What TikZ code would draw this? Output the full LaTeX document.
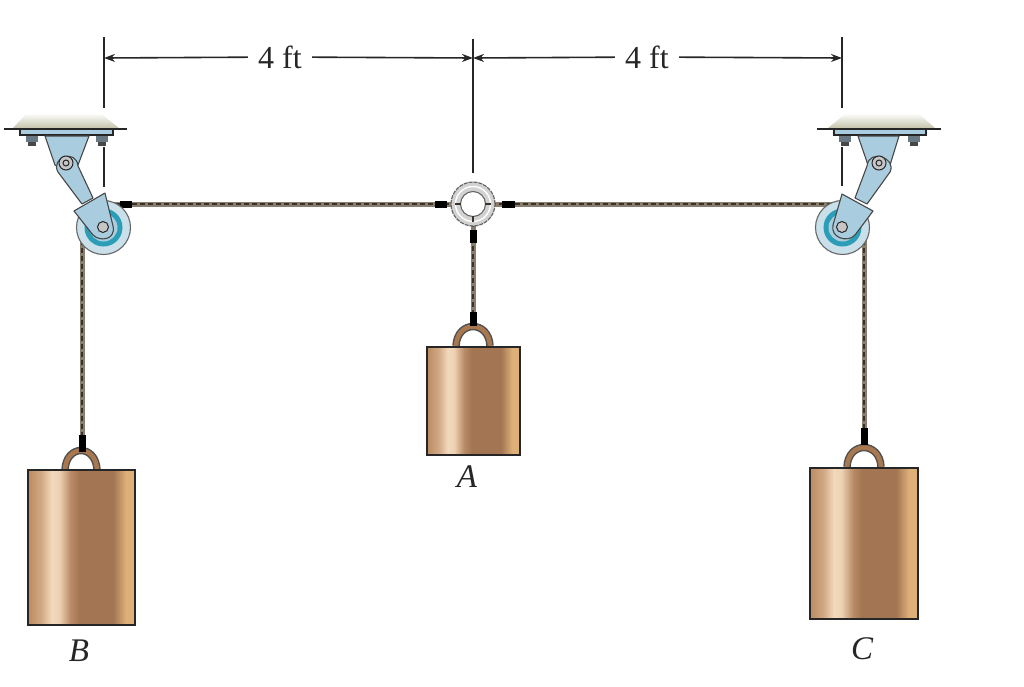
\documentclass[tikz,border=0pt]{standalone}
\usepackage{fontspec}
\setmainfont{Liberation Serif}
\usetikzlibrary{arrows.meta}
\definecolor{ink}{HTML}{262626}
\definecolor{ropebase}{HTML}{887E6D}
\definecolor{ropedark}{HTML}{3A322B}
\definecolor{steel}{HTML}{A9CDDF}
\definecolor{steellight}{HTML}{C9E0EA}
\definecolor{teal}{HTML}{2C9DB6}
\definecolor{hookbrown}{HTML}{A9784F}
\definecolor{ceil}{HTML}{C6C4AC}
\pgfdeclarehorizontalshading{weightshade}{100bp}{
 rgb(0bp)=(0.74,0.55,0.39);
 rgb(25bp)=(0.74,0.55,0.39);
 rgb(31bp)=(0.82,0.66,0.52);
 rgb(36bp)=(0.95,0.85,0.74);
 rgb(39.5bp)=(0.93,0.82,0.70);
 rgb(45bp)=(0.72,0.54,0.40);
 rgb(49bp)=(0.64,0.46,0.32);
 rgb(65bp)=(0.64,0.46,0.32);
 rgb(71bp)=(0.87,0.69,0.47);
 rgb(75bp)=(0.87,0.69,0.47);
 rgb(100bp)=(0.87,0.69,0.47)}
\tikzset{
 dimline/.style={draw=ink,line width=1.6pt,-{Stealth[length=11pt,width=8pt]}},
 extline/.style={draw=ink,line width=1.8pt},
 dimtext/.style={font=\fontsize{32}{32}\selectfont,text=ink,inner sep=0pt,minimum width=64pt},
 lettertext/.style={font=\fontsize{33}{33}\selectfont\itshape,text=ink,inner sep=0pt},
 ropeA/.style={draw=ropebase,line width=5pt},
 ropeB/.style={draw=ropedark,line width=2.8pt,dash pattern=on 5pt off 3pt},
 ferrule/.style={draw=black,line width=7pt},
 weightbox/.style={shading=weightshade,shading angle=0,inner sep=0pt},
 weightedge/.style={draw=ink,line width=2pt},
 hookout/.style={draw=ink!80,line width=7.5pt},
 hookin/.style={draw=hookbrown,line width=4.5pt},
 part/.style={draw=ink!85,line width=1.1pt,fill=steel,line join=round},
 plateline/.style={draw=ink,line width=1.8pt},
 pinst/.style={draw=ink,line width=1pt,fill=gray!45},
}
\newcommand{\rope}[2]{\draw[ropeA] (#1) -- (#2);\draw[ropeB] (#1) -- (#2);}
\newcommand{\hook}[3]{%
 \draw[hookout] (#1,#2) .. controls (#1+1,#2-26) and (#3-1,#2-26) .. (#3,#2);
 \draw[hookin] (#1,#2) .. controls (#1+1,#2-26) and (#3-1,#2-26) .. (#3,#2);}
\begin{document}
\begin{tikzpicture}[x=1pt,y=-1pt]
\useasboundingbox (0,0) rectangle (1024,686);
% ---------- dimensions
\node[dimtext] (ftL) at (280,57) {4 ft};
\node[dimtext] (ftR) at (647,57) {4 ft};
\coordinate (dL) at (104,58); \coordinate (dC) at (473,58); \coordinate (dR) at (842,58);
\draw[dimline] (ftL) -- (dL);
\draw[dimline] (ftL) -- (dC);
\draw[dimline] (ftR) -- (dC);
\draw[dimline] (ftR) -- (dR);
\coordinate (eL1) at (104,37); \coordinate (eL2) at (104,108);
\coordinate (eL3) at (104,147); \coordinate (eL4) at (104,187);
\coordinate (eC1) at (473,39); \coordinate (eC2) at (473,173);
\coordinate (eR1) at (842,37); \coordinate (eR2) at (842,108);
\coordinate (eR3) at (842,147); \coordinate (eR4) at (842,186);
\draw[extline] (eL1) -- (eL2); \draw[extline] (eL3) -- (eL4);
\draw[extline] (eC1) -- (eC2);
\draw[extline] (eR1) -- (eR2); \draw[extline] (eR3) -- (eR4);
% ---------- weights
\hook{456}{346}{490}
\hook{65}{470}{97}
\hook{847}{467}{881}
\node[weightbox,minimum width=92pt,minimum height=108pt] (wA) at (473.5,401) {};
\node[weightbox,minimum width=106pt,minimum height=154pt] (wB) at (81.5,547.5) {};
\node[weightbox,minimum width=107pt,minimum height=151pt] (wC) at (864,543.5) {};
\draw[weightedge] (wA.south west) rectangle (wA.north east);
\draw[weightedge] (wB.south west) rectangle (wB.north east);
\draw[weightedge] (wC.south west) rectangle (wC.north east);
\node[lettertext] (lA) at (467,477) {A};
\node[lettertext] (lB) at (79,651) {B};
\node[lettertext] (lC) at (862,649) {C};
% ---------- ropes
\coordinate (rL) at (108,204); \coordinate (rCl) at (455,204);
\coordinate (rCr) at (491,204); \coordinate (rR) at (838,204);
\coordinate (rCd) at (473,222); \coordinate (rAe) at (473,324);
\coordinate (rBs) at (82,240); \coordinate (rBe) at (82,450);
\coordinate (rCs) at (864,240); \coordinate (rCe) at (864,444);
\rope{rL}{rCl}
\rope{rCr}{rR}
\rope{rCd}{rAe}
\rope{rBs}{rBe}
\rope{rCs}{rCe}
\draw[ferrule] (120,204) -- (132,204);
\draw[ferrule] (435,204) -- (447,204);
\draw[ferrule] (502,204) -- (515,204);
\draw[ferrule] (473,230) -- (473,243);
\draw[ferrule] (473,312) -- (473,326);
\draw[ferrule] (82,435) -- (82,452);
\draw[ferrule] (864,428) -- (864,445);
% ---------- centre ring
\draw[draw=gray!35,line width=10pt] (473,204) circle[radius=17pt];
\draw[draw=ink!70,line width=1.2pt,dash pattern=on 4pt off 1pt] (473,204) circle[radius=22pt];
\draw[white,line width=1.4pt] (473,204) circle[radius=17.5pt];
\node[circle,draw=ink!70,line width=1.1pt,fill=white,minimum size=25pt,inner sep=0pt] (ringin) at (473,204) {};
\draw[ropedark,line width=2.4pt] (rCl) -- (461,204);
\draw[ropedark,line width=2.4pt] (485,204) -- (rCr);
\draw[ropedark,line width=2.4pt] (rCd) -- (473,216);
% ---------- left support
\shade[top color=white,bottom color=ceil] (13,128) -- (26,114) -- (100,113) -- (119,128) -- cycle;
\fill[steel] (20,130) rectangle (113,135);
\draw[ink,line width=1.2pt] (20,130) -- (20,135) -- (113,135) -- (113,130);
\foreach \bx in {32,102}{
 \fill[steel!50!ink] (\bx-6,136) rectangle (\bx+6,142);
 \fill[ink!85] (\bx-4,142) rectangle (\bx+4,146);}
\draw[plateline] (4,129) -- (127,129);
\node[circle,draw=ink!70,line width=1.1pt,fill=steellight,minimum size=54pt,inner sep=0pt] (wheelL) at (103.5,227.5) {};
\node[circle,fill=teal,minimum size=38pt,inner sep=0pt] (tealL) at (103.5,227.5) {};
\node[circle,fill=steel,minimum size=28pt,inner sep=0pt] (hubL) at (103.5,227.5) {};
\draw[part] (45,136) -- (89,136) -- (78,165) -- (66,172) -- (55,165) -- cycle;
\draw[part] (58,172) .. controls (50,158) and (76,148) .. (78,166) -- (93,198) -- (82,204) -- cycle;
\draw[part] (74,211) -- (105,193) -- (113,226) .. controls (116,240) and (100,242) .. (93,235) -- cycle;
\node[pinst,circle,minimum size=14pt,inner sep=0pt] (pinAL) at (66,163) {};
\node[pinst,circle,minimum size=6pt,inner sep=0pt] (pinBL) at (66,163) {};
\node[pinst,circle,minimum size=11pt,inner sep=0pt] (pinCL) at (103,227) {};
% ---------- right support
\shade[top color=white,bottom color=ceil] (828,128) -- (845,114) -- (918,113) -- (935,128) -- cycle;
\fill[steel] (834,130) rectangle (926,135);
\draw[ink,line width=1.2pt] (834,130) -- (834,135) -- (926,135) -- (926,130);
\foreach \bx in {845,914}{
 \fill[steel!50!ink] (\bx-6,136) rectangle (\bx+6,142);
 \fill[ink!85] (\bx-4,142) rectangle (\bx+4,146);}
\draw[plateline] (817,129) -- (941,129);
\node[circle,draw=ink!70,line width=1.1pt,fill=steellight,minimum size=54pt,inner sep=0pt] (wheelR) at (842.5,227.5) {};
\node[circle,fill=teal,minimum size=38pt,inner sep=0pt] (tealR) at (842.5,227.5) {};
\node[circle,fill=steel,minimum size=28pt,inner sep=0pt] (hubR) at (842.5,227.5) {};
\draw[part] (858,136) -- (899,136) -- (890,165) -- (879,172) -- (868,165) -- cycle;
\draw[part] (867,166) .. controls (869,148) and (897,158) .. (890,172) -- (867,204) -- (855,198) -- cycle;
\draw[part] (842,194) -- (873,211) -- (855,235) .. controls (848,243) and (830,238) .. (833,225) -- cycle;
\node[pinst,circle,minimum size=14pt,inner sep=0pt] (pinAR) at (879,163) {};
\node[pinst,circle,minimum size=6pt,inner sep=0pt] (pinBR) at (879,163) {};
\node[pinst,circle,minimum size=11pt,inner sep=0pt] (pinCR) at (842,227) {};
\end{tikzpicture}
\end{document}
